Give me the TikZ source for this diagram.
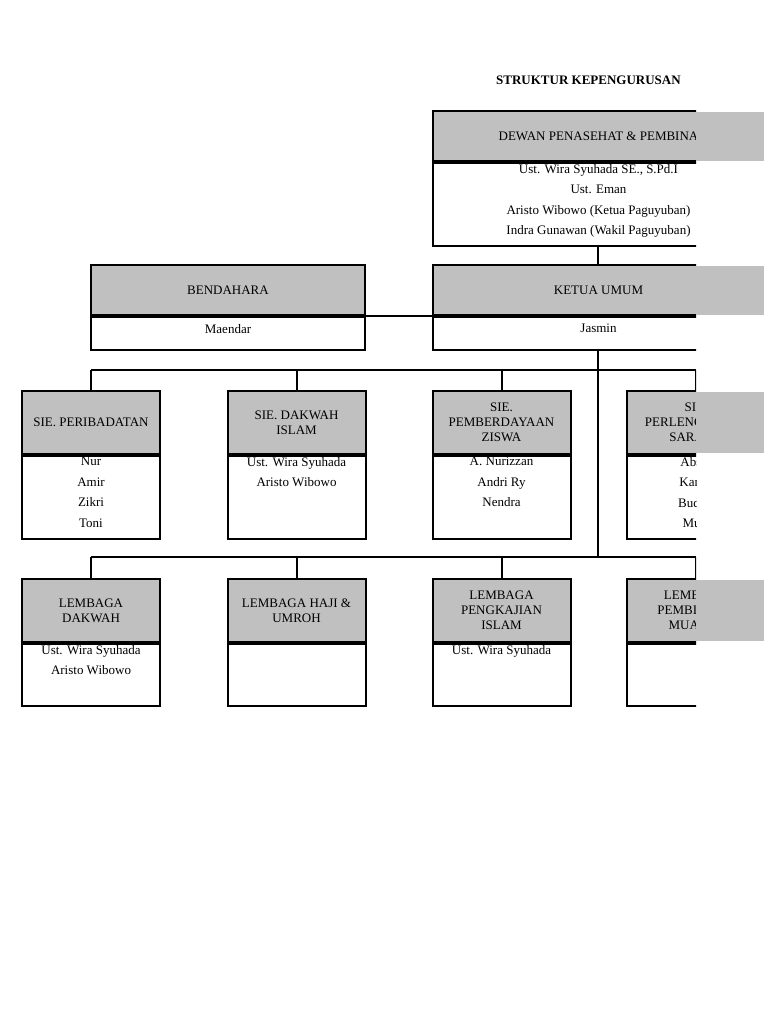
\documentclass[tikz,border=0pt]{standalone}
\usepackage{fontspec}
\setmainfont{Liberation Serif}
\begin{document}
\begin{tikzpicture}[x=1pt,y=-1pt,
  hd/.style={draw=black,line width=2pt,fill=hgray,inner sep=1pt,align=center,font=\fontsize{13}{15}\selectfont},
  bd/.style={draw=black,line width=2pt,fill=white,inner sep=0pt},
  tx/.style={anchor=north,align=center,inner sep=0pt,font=\fontsize{13}{20.5}\selectfont},
  ln/.style={line width=2pt}]
\definecolor{hgray}{HTML}{C0C0C0}
\useasboundingbox (0,0) rectangle (768,1024);
\begin{scope}
\clip (0,0) rectangle (696,1024);
\node[anchor=base west,font=\bfseries\fontsize{13}{15}\selectfont,inner sep=0pt] (title) at (496,85) {STRUKTUR KEPENGURUSAN};
% Dewan
\node[hd,minimum width=331,minimum height=50] (dh) at (598.5,136) {DEWAN PENASEHAT \& PEMBINA};
\node[bd,minimum width=331,minimum height=83,anchor=north] (db) at (dh.south) {};
\node[tx] (dt) at (598.5,164) {Ust. Wira Syuhada SE., S.Pd.I\\Ust. Eman\\Aristo Wibowo (Ketua Paguyuban)\\Indra Gunawan (Wakil Paguyuban)};
% Ketua & Bendahara
\node[hd,minimum width=331,minimum height=50] (kh) at (598.5,290) {KETUA UMUM};
\node[bd,minimum width=331,minimum height=33,anchor=north] (kb) at (kh.south) {};
\node[tx] (kt) at (598.5,324) {Jasmin};
\node[hd,minimum width=274,minimum height=50] (bh) at (228,290) {BENDAHARA};
\node[bd,minimum width=274,minimum height=33,anchor=north] (bb) at (bh.south) {};
\node[tx] (bt) at (228,324) {Maendar};
\draw[ln] (bh.south east) -- (kh.south west);
\draw[ln] (db.south -| 598,0) -- (kh.north -| 598,0);
\coordinate (b1) at (598,370);
\coordinate (b2) at (598,557);
\draw[ln] (kb.south -| 598,0) -- (b2);
% row 3
\foreach \n/\cx/\h/\b in {s1/91/{SIE. PERIBADATAN}/{Nur\\Amir\\Zikri\\Toni},
  s2/296.5/{SIE. DAKWAH\\ISLAM}/{Ust. Wira Syuhada\\Aristo Wibowo},
  s3/501.5/{SIE.\\PEMBERDAYAAN\\ZISWA}/{A. Nurizzan\\Andri Ry\\Nendra},
  s4/696/{SIE.\\PERLENGKAPAN\\SARANA}/{Absar\\Karim\\Budi S\\Muis}}{
  \node[hd,minimum width=138,minimum height=63] (\n h) at (\cx,422.5) {\h};
  \node[bd,minimum width=138,minimum height=83,anchor=north] (\n b) at (\n h.south) {};
  \node[tx] (\n t) at (\cx,457) {\b};
  \draw[ln] (\n h.north) -- (\cx,370);
}
\draw[ln] (s1h.north |- b1) -- (s4h.north |- b1);
% row 4
\foreach \n/\cx/\h/\b in {l1/91/{LEMBAGA\\DAKWAH}/{Ust. Wira Syuhada\\Aristo Wibowo},
  l2/296.5/{LEMBAGA HAJI \&\\UMROH}/{},
  l3/501.5/{LEMBAGA\\PENGKAJIAN\\ISLAM}/{Ust. Wira Syuhada},
  l4/696/{LEMBAGA\\PEMBINAAN\\MUALAF}/{}}{
  \node[hd,minimum width=138,minimum height=63] (\n h) at (\cx,610.5) {\h};
  \node[bd,minimum width=138,minimum height=62,anchor=north] (\n b) at (\n h.south) {};
  \node[tx] (\n t) at (\cx,645) {\b};
  \draw[ln] (\n h.north) -- (\cx,557);
}
\draw[ln] (l1h.north |- b2) -- (l4h.north |- b2);
\end{scope}
\foreach \y/\h in {112/49,266/49,392/61,580/61}
  \fill[hgray] (696,\y) rectangle ++(68,\h);
\end{tikzpicture}
\end{document}
